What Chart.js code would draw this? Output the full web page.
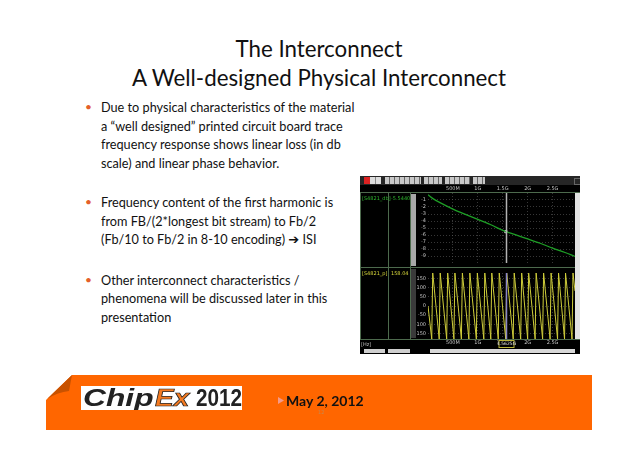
<!DOCTYPE html>
<html>
<head>
<meta charset="utf-8">
<script src="https://cdn.jsdelivr.net/npm/chart.js@4.4.0/dist/chart.umd.min.js"></script>
<style>
body { margin: 0; background: #fff; }
#slide { position: relative; width: 638px; height: 451px; overflow: hidden; background: #fff;
         font-family: Lato, "Open Sans", sans-serif; color: #111; }
.title { position: absolute; left: 0; width: 638px; text-align: center; font-size: 22.3px; line-height: 27px; }
.bul { position: absolute; left: 101px; font-size: 12.7px; line-height: 18.7px; white-space: nowrap; }
.bul::before { content: "\2022"; position: absolute; left: -16px; top: 0; color: #e4602a; font-size: 12px; }
.arrow { font-family: "DejaVu Sans"; font-size: 13px; font-weight: bold; }

#scope { position: absolute; left: 360px; top: 176px; width: 220px; height: 178px; background: #000; overflow: hidden; }
#scope .abs { position: absolute; }
.hl { position: absolute; height: 1px; background: #4d6a4d; }
.vl { position: absolute; width: 1px; background: #4d6a4d; }
.btn { position: absolute; top: 1px; height: 7px; background: #c8c8c8;
       background-image: repeating-linear-gradient(90deg, #c8c8c8 0 4px, #666 4px 5px); }
.tiny { position: absolute; font-family: "DejaVu Sans", sans-serif; font-size: 5px; line-height: 6px; white-space: nowrap; }
#topChart, #botChart { position: absolute; left: 52px; }
#topChart { top: 9px; }
#botChart { top: 92px; }

#footer { position: absolute; left: 0; top: 0; }
#logo { position: absolute; left: 81px; top: 386px; width: 161px; height: 24px; background: #fff; overflow: hidden; }
#logo span { position: absolute; top: 0; font-family: "Liberation Sans", sans-serif; font-weight: bold;
             font-size: 23px; line-height: 24px; transform-origin: 0 50%; white-space: nowrap; }
#date { position: absolute; left: 286px; top: 391px; font-size: 14px; font-weight: bold; line-height: 20px; color: #111; }
</style>
</head>
<body>
<div id="slide">
  <div class="title" style="top:34.5px">The Interconnect</div>
  <div class="title" style="top:63.5px">A Well-designed Physical Interconnect</div>

  <div class="bul" style="top:98px">Due to physical characteristics of the material<br>a “well designed” printed circuit board trace<br>frequency response shows linear loss (in db<br>scale) and linear phase behavior.</div>
  <div class="bul" style="top:193px">Frequency content of the first harmonic is<br>from FB/(2*longest bit stream) to Fb/2<br>(Fb/10 to Fb/2 in 8-10 encoding) <span class="arrow">➔</span> ISI</div>
  <div class="bul" style="top:270.5px">Other interconnect characteristics /<br>phenomena will be discussed later in this<br>presentation</div>

  <div id="scope">
    <!-- toolbar -->
    <div class="abs" style="left:0;top:0;width:220px;height:9px;background:#262626"></div>
    <div class="btn" style="left:4px;width:17px;background-image:linear-gradient(90deg,#d22 0 6px,#ddd 6px 11px,#888 11px 12px,#ddd 12px)"></div>
    <div class="btn" style="left:25px;width:36px"></div>
    <div class="btn" style="left:64px;width:18px"></div>
    <div class="btn" style="left:85px;width:25px"></div>
    <div class="btn" style="left:113px;width:12px"></div>
    <div class="abs" style="left:214px;top:2px;width:5px;height:5px;border:1px solid #666"></div>

    <canvas id="topChart" width="168" height="83"></canvas>
    <canvas id="botChart" width="168" height="81"></canvas>

    <!-- panel frame -->
    <div class="hl" style="left:0;top:16px;width:220px"></div>
    <div class="hl" style="left:0;top:91px;width:215px"></div>
    <div class="hl" style="left:0;top:163px;width:220px"></div>
    <div class="vl" style="left:0;top:16px;height:148px"></div>
    <div class="vl" style="left:28px;top:16px;height:148px"></div>
    <div class="vl" style="left:50px;top:16px;height:148px"></div>

    <!-- scroll bars -->
    <div class="abs" style="left:51px;top:18px;width:5px;height:72px;background:#a8a8a8"></div>
    <div class="abs" style="left:51px;top:93px;width:5px;height:69px;background:#3a3a3a"></div>
    <div class="abs" style="left:215px;top:17px;width:5px;height:146px;background:#e2e2e2"></div>
    <div class="abs" style="left:4px;top:173px;width:21px;height:4px;background:#cfcfcf"></div>
    <div class="abs" style="left:28px;top:173px;width:22px;height:4px;background:#cfcfcf"></div>
    <div class="abs" style="left:70px;top:173px;width:145px;height:4px;background:#d8d8d8"></div>

    <!-- readouts -->
    <div class="tiny" style="left:2px;top:19px;color:#2eb82e">[S4821_db]</div>
    <div class="tiny" style="left:31px;top:19px;color:#2eb82e">-5.5440</div>
    <div class="tiny" style="left:2px;top:94px;color:#d6d63a">[S4821_p]</div>
    <div class="tiny" style="left:31px;top:94px;color:#d6d63a">158.04</div>
    <div class="tiny" style="left:1px;top:165px;color:#bbb">[Hz]</div>
  </div>

  <svg id="footer" width="638" height="451">
    <path d="M72,375 L592,375 L592,430 L46,430 L46,400 Z" fill="#ff6600"/>
    <path d="M72,375 L47,399 Q58,392 69,391 Z" fill="#c85200"/>
    <path d="M278,397 L284,400.5 L278,404 Z" fill="#f59a8a"/>
    <text x="318" y="414" font-family="DejaVu Sans" font-size="5" fill="#c9864a">12</text>
  </svg>
  <div id="logo">
    <span style="left:2px;font-style:italic;color:#222;transform:scaleX(1.38)">Chip</span>
    <span style="left:74px;font-style:italic;color:#f47a20;-webkit-text-stroke:0.7px #222;transform:scaleX(1.22)">Ex</span>
    <span style="left:115px;color:#222;transform:scaleX(0.9)">2012</span>
  </div>
  <div id="date">May 2, 2012</div>
</div>

<script>
// frequency axis (GHz) and labels
const freqTicks = [0.5, 1, 1.5, 2, 2.5];
const freqTickLabels = ['500M', '1G', '1.5G', '2G', '2.5G'];
const freqMax = 2.95;

// S21 magnitude, dB
const lossFreq = [0, 0.1, 0.25, 0.5, 0.75, 1.0, 1.25, 1.5, 1.5625, 1.75, 2.0, 2.25, 2.5, 2.75, 2.95];
const lossDb = [-0.25, -0.8, -1.42, -2.3, -3.05, -3.78, -4.5, -5.35, -5.52, -5.96, -6.56, -7.18, -7.87, -8.5, -9.05];
const dbTicks = [-1, -2, -3, -4, -5, -6, -7, -8, -9];

// S21 phase, degrees (wrapped): where the trace hits -180 and where it is back at +180
const phaseTroughs = [0.075, 0.225, 0.375, 0.52, 0.67, 0.82, 0.97, 1.12, 1.26, 1.41, 1.56, 1.71, 1.86, 2.00, 2.15, 2.30, 2.45, 2.60, 2.74, 2.89];
const phasePeaks = [0.095, 0.245, 0.395, 0.54, 0.69, 0.84, 0.99, 1.14, 1.28, 1.43, 1.58, 1.73, 1.88, 2.02, 2.17, 2.32, 2.47, 2.62, 2.76, 2.91];
const phaseStart = 0;
const phaseEnd = 82;
const phaseTicks = [150, 100, 50, 0, -50, -100, -150];

// marker
const cursorFreq = 1.5625;
const cursorLabel = '1.5625G';

const lossData = lossFreq.map((f, i) => ({ x: f, y: lossDb[i] }));
const phaseData = [{ x: 0, y: phaseStart }];
phaseTroughs.forEach((f, i) => {
    phaseData.push({ x: f, y: -180 });
    phaseData.push({ x: phasePeaks[i], y: 180 });
});
phaseData.push({ x: freqMax, y: phaseEnd });

const tickFont = { family: 'DejaVu Sans', size: 5 };

// cursor line through the plot
const cursorPlugin = {
    id: 'cursor',
    afterDatasetsDraw(chart, args, opts) {
        const { ctx, chartArea, scales } = chart;
        const x = Math.round(scales.x.getPixelForValue(cursorFreq)) + 0.5;
        ctx.save();
        ctx.strokeStyle = opts.color;
        ctx.lineWidth = 1.5;
        ctx.beginPath();
        ctx.moveTo(x, chartArea.top);
        ctx.lineTo(x, chartArea.bottom);
        ctx.stroke();
        if (opts.label) {
            const y = chartArea.bottom + 1;
            ctx.fillStyle = '#000';
            ctx.fillRect(x - 8, y, 16, 8);
            ctx.strokeStyle = '#b7b23a';
            ctx.lineWidth = 1;
            ctx.strokeRect(x - 7.5, y + 0.5, 15, 7);
            ctx.fillStyle = '#e8e8e8';
            ctx.font = '4.5px DejaVu Sans';
            ctx.textAlign = 'center';
            ctx.textBaseline = 'middle';
            ctx.fillText(cursorLabel, x, y + 4);
        }
        ctx.restore();
    }
};

function xScale(position, height) {
    return {
        type: 'linear',
        position: position,
        min: 0,
        max: freqMax,
        afterBuildTicks: (s) => { s.ticks = freqTicks.map(v => ({ value: v })); },
        afterFit: (s) => { s.height = height; },
        grid: { color: '#5c5c5c', lineWidth: 0.6, drawTicks: false },
        border: { display: false, dash: [1, 2] },
        ticks: {
            color: '#c4c4c4', font: tickFont, padding: 1, autoSkip: false, maxRotation: 0,
            callback: (v) => freqTickLabels[freqTicks.indexOf(v)]
        }
    };
}

function yScale(min, max, ticks) {
    return {
        min: min,
        max: max,
        afterBuildTicks: (s) => { s.ticks = ticks.map(v => ({ value: v })); },
        afterFit: (s) => { s.width = 16; },
        grid: { color: '#5c5c5c', lineWidth: 0.6, drawTicks: false },
        border: { display: false, dash: [1, 2] },
        ticks: { color: '#c4c4c4', font: tickFont, padding: 2, autoSkip: false }
    };
}

new Chart(document.getElementById('topChart'), {
    type: 'line',
    data: {
        datasets: [{
            data: lossData,
            borderColor: '#1e9e26',
            borderWidth: 1.3,
            pointRadius: 0,
            tension: 0.3
        }, {
            data: [{ x: cursorFreq, y: lossDb[lossFreq.indexOf(cursorFreq)] }],
            pointStyle: 'rect',
            pointRadius: 1.6,
            backgroundColor: '#bdbdbd',
            borderColor: '#bdbdbd',
            showLine: false
        }]
    },
    options: {
        responsive: false,
        animation: false,
        layout: { padding: { right: 5, bottom: 1, top: 0, left: 0 } },
        plugins: { legend: { display: false }, tooltip: { enabled: false }, cursor: { color: '#b4b4b4' } },
        scales: { x: xScale('top', 8), y: yScale(-10, 0, dbTicks) }
    },
    plugins: [cursorPlugin]
});

new Chart(document.getElementById('botChart'), {
    type: 'line',
    data: {
        datasets: [{
            data: phaseData,
            borderColor: '#cfcd3a',
            borderWidth: 1,
            pointRadius: 0,
            tension: 0
        }]
    },
    options: {
        responsive: false,
        animation: false,
        layout: { padding: { right: 5, top: 1, bottom: 0, left: 0 } },
        plugins: { legend: { display: false }, tooltip: { enabled: false }, cursor: { color: '#8a86c8', label: true } },
        scales: { x: xScale('bottom', 10), y: yScale(-180, 180, phaseTicks) }
    },
    plugins: [cursorPlugin]
});
</script>
</body>
</html>
